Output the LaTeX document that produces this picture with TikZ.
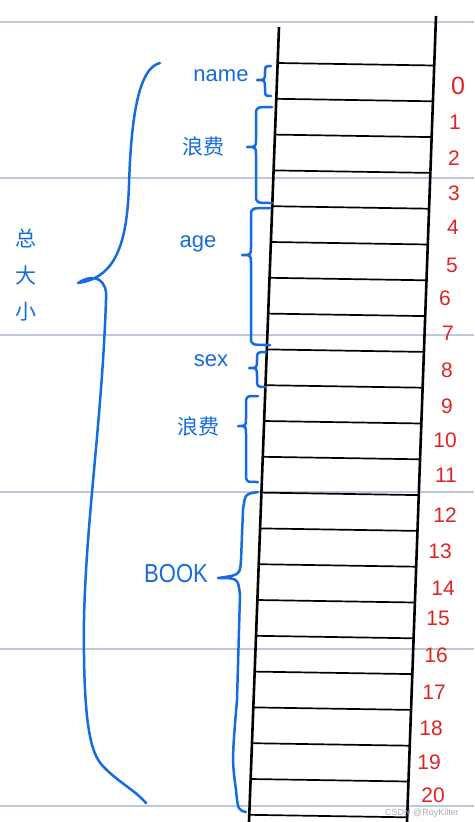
\documentclass[tikz,border=0pt]{standalone}
\usepackage{fontspec}
\setmainfont{Liberation Sans}
\newfontfamily\cjk{Noto Sans CJK SC}
\definecolor{penblue}{RGB}{22,108,222}
\definecolor{penred}{RGB}{222,36,36}
\definecolor{rule}{RGB}{190,200,218}
\definecolor{wm}{RGB}{170,170,170}
\newcommand\drawbrace[6]{%
  \draw[bb] (#1,#2) .. controls (#4,#2) .. (#4,{#2+8}) -- (#4,{#6-8})
    .. controls (#4,#6) .. (#5,#6) .. controls (#4,#6) .. (#4,{#6+8})
    -- (#4,{#3-8}) .. controls (#4,#3) .. (#1,#3);}
\tikzset{
  bb/.style={draw=penblue, line width=2.5pt, line cap=round, line join=round},
  ruleline/.style={draw=rule, line width=1.1pt},
  side/.style={draw=black, line width=2.6pt},
  rung/.style={draw=black, line width=1.7pt},
  idx/.style={text=penred, font=\fontsize{21}{21}\selectfont, inner sep=0pt},
  lab/.style={text=penblue, font=\fontsize{22}{22}\selectfont, inner sep=0pt},
  clab/.style={text=penblue, font=\cjk\fontsize{21}{21}\selectfont, inner sep=0pt}
}
\begin{document}
\begin{tikzpicture}[x=1pt,y=-1pt]
\useasboundingbox (0,0) rectangle (474,822);
\fill[white] (0,0) rectangle (474,822);
% ruled paper lines
\foreach \yy in {22,178,335,492,649,806} \draw[ruleline] (0,\yy) -- (474,\yy);
% ladder sides
\coordinate (LT) at (279,27); \coordinate (LB) at (249,822);
\coordinate (RT) at (436,16); \coordinate (RB) at (407,822);
\draw[side] (LT) -- (LB);
\draw[side] (RT) -- (RB);
% rungs
\foreach \i in {0,...,21}{
  \pgfmathsetmacro\yl{63+35.8*\i}
  \pgfmathsetmacro\yr{\yl+2.5}
  \pgfmathsetmacro\xl{279-0.0377*(\yl-27)}
  \pgfmathsetmacro\xr{436-0.036*(\yr-16)}
  \draw[rung] (\xl,\yl) -- (\xr,\yr);
}
% indices
\foreach \n/\xx/\yy in {1/455/122,2/454/158,3/454/193,4/453/227,5/452/265,
  6/445/298,7/448/333,8/447/370,9/447/406,10/445/440,11/446/475,12/445/515,
  13/440/551,14/443/588,15/438/618,16/436/655,17/434/692,18/431/728,19/429/762,20/433/795}
  \node[idx] (n\n) at (\xx,\yy) {\n};
\node[idx, font=\fontsize{25}{25}\selectfont] (n0) at (458,86) {0};
% labels
\node[lab] (name) at (221,76) {name};
\node[clab] (w1) at (203,147) {浪费};
\node[lab] (age) at (198,244) {age};
\node[lab] (sex) at (211,361) {sex};
\node[clab] (w2) at (198,427) {浪费};
\node[lab, font=\fontsize{26}{26}\selectfont, xscale=0.85] (book) at (176,574) {BOOK};
\node[clab] (z1) at (26,238) {总};
\node[clab] (z2) at (26,276) {大};
\node[clab] (z3) at (26,312) {小};
% small braces
\drawbrace{271}{66}{96}{265}{257}{80}
\drawbrace{272}{107}{203}{256}{247}{147}
\drawbrace{270}{208}{345}{251}{242}{255}
\drawbrace{266}{352}{387}{257}{249}{368}
\drawbrace{258}{396}{482}{246}{238}{426}
\draw[bb] (258,492) .. controls (245,494) .. (243,510) -- (241,560)
  .. controls (240,575) .. (218,578) .. controls (238,578) .. (240,595)
  -- (237,700) .. controls (232,760) .. (236,790) .. controls (238,810) .. (246,812);
% big brace
\draw[bb] (160,63) .. controls (138,68) and (131,120) .. (129,185)
  .. controls (127,245) and (115,278) .. (78,283)
  .. controls (95,272) and (108,280) .. (106,300)
  .. controls (102,420) and (86,520) .. (84,620)
  .. controls (83,720) and (90,752) .. (102,765)
  .. controls (115,780) and (135,790) .. (146,803);
% watermark
\node[text=wm, font=\fontsize{9}{9}\selectfont, inner sep=0pt] (wmk) at (422,813) {CSDN @RoyKilter};
\end{tikzpicture}
\end{document}
